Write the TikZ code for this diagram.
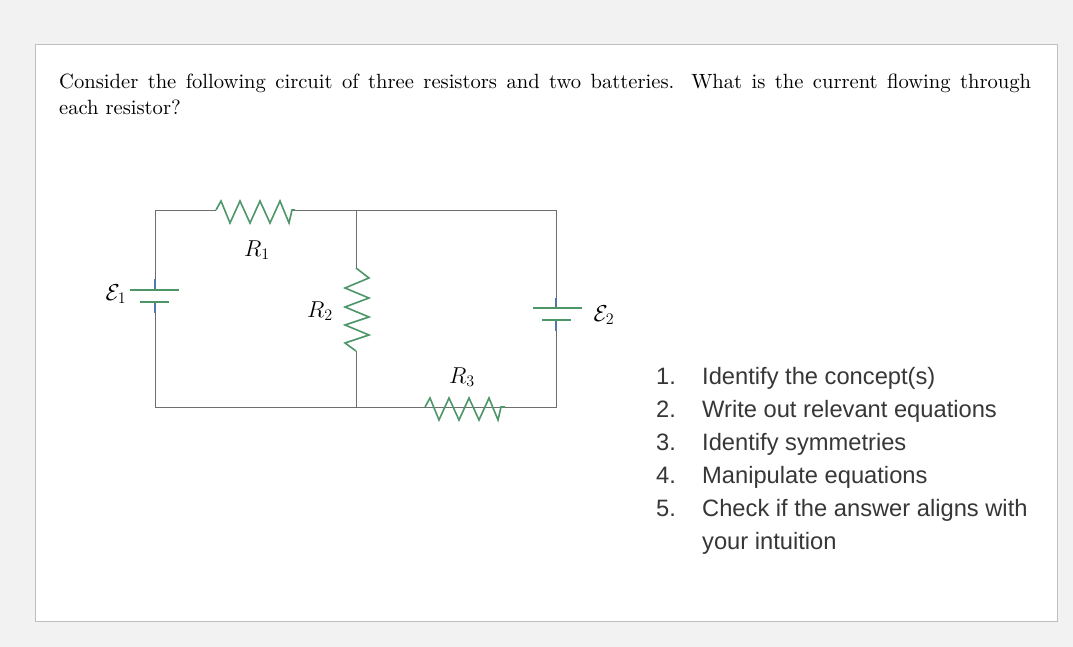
\documentclass[tikz,border=0pt]{standalone}
\usepackage{fix-cm}
\usepackage{fontspec}
\newfontfamily\sans{Liberation Sans}
\newfontfamily\lmten{lmroman10-regular}[Extension=.otf]
\definecolor{rg}{RGB}{76,150,104}
\definecolor{stub}{RGB}{80,120,170}
\definecolor{wire}{RGB}{110,110,110}
\definecolor{listc}{RGB}{55,55,55}
\begin{document}
\begin{tikzpicture}[x=1pt,y=-1pt,
  wr/.style={draw=wire,line width=0.9pt},
  res/.style={draw=rg,line width=1.6pt,line join=miter},
  plate/.style={draw=rg,line width=1.8pt},
  lab/.style={font=\fontsize{23}{23}\selectfont,inner sep=0pt},
  li/.style={font=\sans\fontsize{23.7}{26}\selectfont,text=listc,anchor=base west,inner sep=0pt}]
\useasboundingbox (0,0) rectangle (1073,647);
\fill[black!5] (0,0) rectangle (1073,647);
\draw[fill=white,draw=black!25,line width=1pt] (35,45) rectangle (1057,621);
\node[anchor=north west,text width=972pt,align=justify,inner sep=0pt,font=\lmten\fontsize{20.6}{26}\selectfont] (txt) at (59,74)
 {Consider the following circuit of three resistors and two batteries. What is the current flowing through\linebreak each resistor?};
\coordinate (tl) at (155,210); \coordinate (tm) at (356,210); \coordinate (tr) at (556,210);
\coordinate (bl) at (155,407); \coordinate (bm) at (356,407); \coordinate (br) at (556,407);
% wires
\draw[wr] (155,279) -- (tl) -- (216,210);
\draw[wr] (295,210) -- (tr) -- (556,298);
\draw[wr] (tm) -- (356,268);
\draw[wr] (356,351) -- (bm);
\draw[wr] (155,313) -- (bl) -- (br) -- (556,331);
% R1
\draw[res] (216,210) -- (221,201) -- (230,223) -- (240,201) -- (250,223) -- (260,201) -- (270,223) -- (280,201) -- (289,223) -- (292,210) -- (295,210);
% R2
\draw[res] (356,268) -- (369,278) -- (345,288) -- (369,298) -- (345,307) -- (369,317) -- (345,325) -- (369,335) -- (345,343) -- (356,351);
% R3
\draw[res] (425,407) -- (430,398) -- (439,420) -- (449,398) -- (459,420) -- (469,398) -- (479,420) -- (489,398) -- (498,420) -- (501,407) -- (505,407);
% batteries
\draw[draw=stub,line width=1.2pt] (155,279) -- (155,290) (155,302) -- (155,313);
\draw[plate] (130,290) -- (179,290);
\draw[plate] (140,302) -- (169,302);
\draw[draw=stub,line width=1.2pt] (556,298) -- (556,308) (556,320) -- (556,331);
\draw[plate] (533,308) -- (582,308);
\draw[plate] (542,320) -- (571,320);
% labels
\node[lab] (e1) at (116,294) {$\mathcal{E}_1$};
\node[lab] (e2) at (604,315) {$\mathcal{E}_2$};
\node[lab] (r1) at (257,250) {$R_1$};
\node[lab] (r2) at (320,311) {$R_2$};
\node[lab] (r3) at (462,377) {$R_3$};
% list
\foreach \n/\y/\t in {1/384/Identify the concept(s),2/417/Write out relevant equations,3/450/Identify symmetries,4/483/Manipulate equations,5/516/Check if the answer aligns with}{
  \node[li] (n\n) at (656,\y) {\n.};
  \node[li] (t\n) at (702,\y) {\t};}
\node[li] (t6) at (702,549) {your intuition};
\end{tikzpicture}
\end{document}
